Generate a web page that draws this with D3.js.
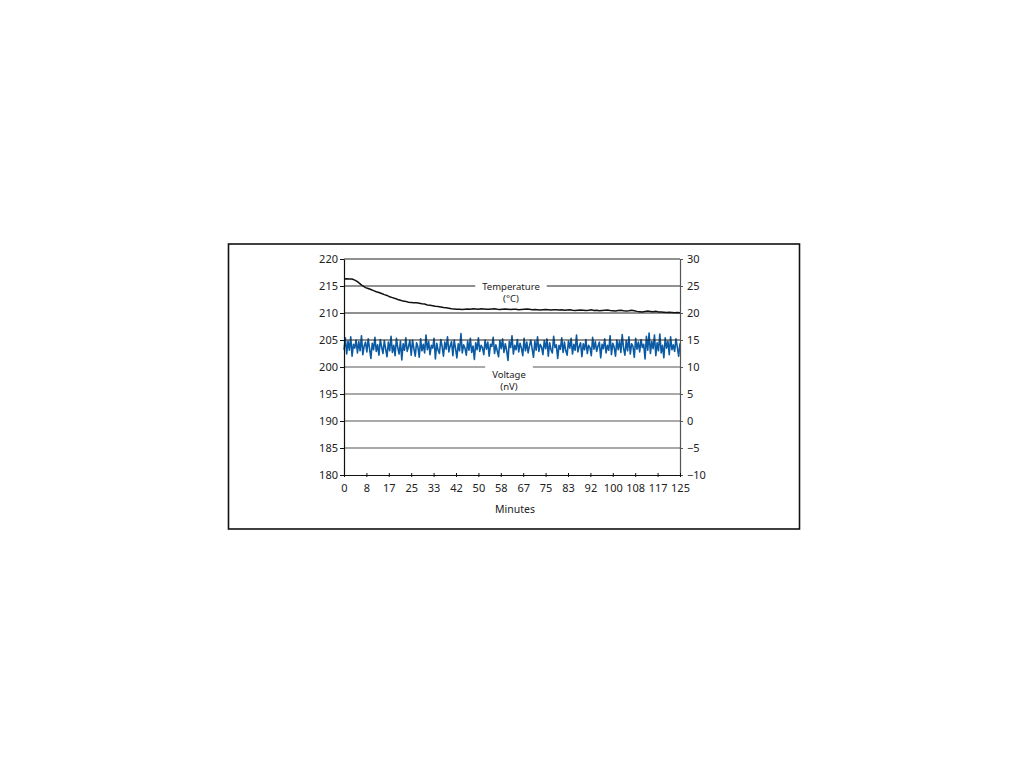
<!DOCTYPE html>
<html>
<head>
<meta charset="utf-8">
<script src="https://cdn.jsdelivr.net/npm/d3@7"></script>
<style>
  body { margin: 0; background: #fff; }
  text { font-family: "Noto Sans", "Open Sans", sans-serif; }
</style>
</head>
<body>
<svg width="1024" height="768"></svg>
<script>
// tick values / labels
const leftTicks = [180, 185, 190, 195, 200, 205, 210, 215, 220]
const rightTicks = [-10, -5, 0, 5, 10, 15, 20, 25, 30]
const xTickLabels = ["0", "8", "17", "25", "33", "42", "50", "58", "67", "75", "83", "92", "100", "108", "117", "125"]

// temperature (°C, right axis), one reading per minute, 0..125
const tempMinutes = d3.range(0, 126)
const tempValues = [
  26.3, 26.35, 26.3, 26.3, 26.1, 25.8, 25.4, 25.0, 24.7, 24.55,
  24.35, 24.15, 23.95, 23.8, 23.6, 23.4, 23.25, 23.0, 22.85, 22.7,
  22.5, 22.35, 22.2, 22.15, 22.0, 21.95, 21.9, 21.9, 21.8, 21.7,
  21.65, 21.5, 21.45, 21.35, 21.25, 21.2, 21.1, 21.0, 20.95, 20.9,
  20.8, 20.75, 20.7, 20.7, 20.65, 20.7, 20.75, 20.7, 20.8, 20.75,
  20.7, 20.8, 20.75, 20.7, 20.7, 20.75, 20.8, 20.7, 20.65, 20.7,
  20.75, 20.7, 20.65, 20.7, 20.7, 20.6, 20.65, 20.7, 20.75, 20.7,
  20.6, 20.65, 20.6, 20.55, 20.6, 20.65, 20.6, 20.55, 20.6, 20.6,
  20.55, 20.6, 20.5, 20.55, 20.6, 20.5, 20.45, 20.5, 20.55, 20.5,
  20.45, 20.5, 20.6, 20.45, 20.5, 20.4, 20.45, 20.5, 20.55, 20.45,
  20.4, 20.35, 20.45, 20.5, 20.4, 20.35, 20.4, 20.5, 20.4, 20.3,
  20.25, 20.2, 20.3, 20.35, 20.3, 20.25, 20.3, 20.2, 20.2, 20.15,
  20.1, 20.15, 20.1, 20.05, 20.1, 20.05
]

// voltage (nV, left axis), one reading every half minute, 0..125
const voltMinutes = d3.range(0, 251).map(i => i / 2)
const voltValues = [
  203.2, 205.4, 202.4, 204.8, 203.1, 205.6, 202.0, 204.2, 203.5, 205.0,
  202.6, 204.7, 203.0, 205.8, 202.3, 203.9, 204.6, 202.8, 205.2, 203.4,
  201.6, 204.4, 203.2, 205.5, 202.9, 204.1, 202.2, 205.1, 203.7, 202.5,
  204.9, 203.3, 201.9, 204.6, 203.0, 205.7, 202.7, 204.0, 202.1, 205.3,
  203.6, 202.4, 204.8, 201.3, 204.3, 203.1, 205.4, 202.9, 203.8, 204.9,
  202.2, 205.0, 203.4, 202.0, 204.5, 203.7, 201.8, 205.2, 203.0, 204.2,
  202.6, 205.9, 203.2, 204.7, 202.3, 204.0, 203.5, 205.3, 201.5, 204.4,
  203.1, 202.5, 205.1, 203.8, 202.0, 204.6, 203.3, 205.6, 202.8, 203.9,
  204.7, 202.1, 205.0, 203.4, 201.7, 204.3, 203.0, 206.2, 202.6, 204.1,
  203.5, 202.2, 204.8, 203.1, 205.3, 202.7, 203.9, 201.4, 204.5, 203.2,
  205.4, 202.9, 204.0, 203.6, 202.3, 205.0, 203.3, 204.6, 202.0, 204.2,
  203.8, 205.5, 202.5, 204.1, 203.0, 201.9, 204.9, 203.4, 205.2, 202.7,
  204.3, 203.1, 201.2, 204.7, 203.6, 205.8, 202.4, 204.0, 203.2, 205.1,
  202.8, 204.4, 203.5, 202.1, 205.3, 203.0, 204.6, 202.6, 203.9, 205.0,
  203.3, 201.8, 204.8, 203.1, 205.6, 202.9, 204.2, 203.7, 202.3, 204.9,
  203.4, 205.2, 202.0, 204.5, 203.2, 202.6, 205.7, 203.6, 204.1, 201.6,
  204.0, 203.3, 205.4, 202.7, 204.6, 203.0, 202.2, 204.8, 203.5, 205.3,
  202.4, 204.2, 203.1, 205.9, 202.8, 203.8, 204.5, 201.9, 204.3, 203.2,
  205.1, 202.5, 204.0, 203.6, 202.1, 205.5, 203.3, 204.7, 202.9, 203.9,
  204.6, 201.7, 204.2, 203.4, 205.2, 202.6, 204.0, 203.1, 205.8, 202.3,
  204.4, 203.7, 202.0, 205.0, 203.2, 204.8, 202.7, 206.0, 203.5, 202.2,
  204.9, 203.0, 205.6, 202.4, 204.3, 203.8, 201.8, 205.3, 203.3, 204.6,
  202.8, 205.1, 203.6, 204.2, 201.5, 205.7, 203.1, 206.3, 202.5, 204.7,
  203.4, 205.9, 202.1, 204.5, 203.0, 206.1, 202.6, 204.0, 201.7, 205.4,
  203.5, 204.8, 202.3, 205.6, 203.2, 204.1, 202.9, 205.2, 203.7, 202.0,
  204.4
]

var svg = d3.select("svg")

var plotLeft = 344, plotRight = 680, plotTop = 259, plotBottom = 475

var x = d3.scaleLinear().domain([0, 125]).range([plotLeft, plotRight])
var yLeft = d3.scaleLinear().domain([180, 220]).range([plotBottom, plotTop])
var yRight = d3.scaleLinear().domain([-10, 30]).range([plotBottom, plotTop])

// outer frame
svg.append("rect")
  .attr("x", 228.5).attr("y", 244).attr("width", 571).attr("height", 285)
  .attr("fill", "none").attr("stroke", "#111").attr("stroke-width", 1.6)

// voltage trace
var voltLine = d3.line()
  .x((d, i) => x(voltMinutes[i]))
  .y(d => yLeft(d))

svg.append("path")
  .datum(voltValues)
  .attr("d", voltLine)
  .attr("fill", "none")
  .attr("stroke", "#0b5aa4")
  .attr("stroke-width", 1.6)
  .attr("stroke-linejoin", "round")

// grid lines (drawn over the blue trace, like the original)
svg.append("g")
  .selectAll("line")
  .data(leftTicks.filter(d => d > 180))
  .enter().append("line")
  .attr("x1", plotLeft).attr("x2", plotRight)
  .attr("y1", d => yLeft(d)).attr("y2", d => yLeft(d))
  .attr("stroke", d => d >= 205 ? "#222" : "#555")
  .attr("stroke-width", 1.2)

// temperature trace
var tempLine = d3.line()
  .x((d, i) => x(tempMinutes[i]))
  .y(d => yRight(d))

svg.append("path")
  .datum(tempValues)
  .attr("d", tempLine)
  .attr("fill", "none")
  .attr("stroke", "#111")
  .attr("stroke-width", 1.5)

// left axis
var gl = svg.append("g")
  .attr("transform", "translate(" + plotLeft + ",0)")
  .call(d3.axisLeft(yLeft).tickValues(leftTicks).tickSizeInner(4).tickSizeOuter(0).tickPadding(2))
gl.select(".domain").attr("stroke", "#111").attr("stroke-width", 1.2)
gl.selectAll("line").attr("stroke", "#111")

// right axis
var gr = svg.append("g")
  .attr("transform", "translate(" + plotRight + ",0)")
  .call(d3.axisRight(yRight).tickValues(rightTicks).tickSizeInner(3).tickSizeOuter(0).tickPadding(4))
gr.select(".domain").attr("stroke", "#555").attr("stroke-width", 1.2)
gr.selectAll("line").attr("stroke", "#555")

// bottom axis
var gx = svg.append("g")
  .attr("transform", "translate(0," + plotBottom + ")")
  .call(d3.axisBottom(x)
    .tickValues(xTickLabels.map((d, i) => i * 125 / 15))
    .tickFormat((d, i) => xTickLabels[i])
    .tickSizeInner(2).tickSizeOuter(0).tickPadding(7))
gx.select(".domain").attr("stroke", "#111").attr("stroke-width", 1.2)
gx.selectAll(".tick line").attr("y1", -2).attr("y2", 2).attr("stroke", "#111")

svg.selectAll(".tick text")
  .attr("font-size", 11)
  .attr("fill", "#222")
  .style("font-family", "'Noto Sans', 'Open Sans', sans-serif")

// series labels sitting in gaps of the grid lines
function seriesLabel(cx, lineY, y1, line1, line2) {
  var gap = svg.append("rect")
    .attr("y", lineY - 3).attr("height", 6)
    .attr("fill", "#fff")
  var t = svg.append("text")
    .attr("text-anchor", "middle").attr("font-size", 9.5).attr("fill", "#222")
  var s1 = t.append("tspan").attr("x", cx).attr("y", y1).text(line1)
  t.append("tspan").attr("x", cx).attr("dy", 12.5).text(line2)
  var w = s1.node().getComputedTextLength() + 14
  gap.attr("x", cx - w / 2).attr("width", w)
}
seriesLabel(511, yLeft(215), yLeft(215) + 3.5, "Temperature", "(°C)")
seriesLabel(509, yLeft(200), yLeft(200) + 10.5, "Voltage", "(nV)")

svg.append("text")
  .attr("x", 515).attr("y", 513)
  .attr("text-anchor", "middle").attr("font-size", 10.5).attr("fill", "#222")
  .text("Minutes")
</script>
</body>
</html>
